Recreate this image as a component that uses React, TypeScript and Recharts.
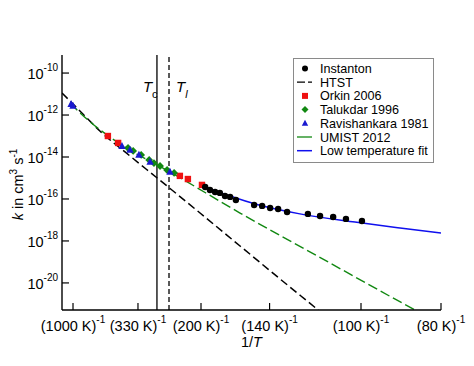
import React from 'react';
import { ComposedChart, Line, Scatter, XAxis, YAxis, ReferenceLine, Legend } from 'recharts';

const FONT = '"Liberation Sans", Arial, Helvetica, sans-serif';
const RED = '#ee1111';
const GREEN = '#118811';
const BLUE = '#1a1ad0';
const FIT_BLUE = '#1010ee';

// x = 1000/T (K^-1 * 1000), y = log10(k / cm^3 s^-1)
const xTickValues = [1, 1000 / 330, 5, 1000 / 140, 10, 12.5];
const xTickTemps = [1000, 330, 200, 140, 100, 80];
const yTickExponents = [-20, -18, -16, -14, -12, -10];

const seriesNames = ['Instanton', 'HTST', 'Orkin 2006', 'Talukdar 1996', 'Ravishankara 1981', 'UMIST 2012', 'Low temperature fit'];

const tcTemp = 276;
const tlTemp = 250;

const instantonX = [5.13, 5.28, 5.44, 5.59, 5.75, 5.91, 6.09, 6.66, 6.91, 7.16, 7.41, 7.69, 8.34, 8.72, 9.13, 9.53, 10.03];
const instantonLogK = [-15.43, -15.57, -15.67, -15.71, -15.86, -15.9, -16.05, -16.29, -16.33, -16.43, -16.48, -16.62, -16.71, -16.81, -16.86, -16.95, -17.05];

const orkinX = [2.09, 2.41, 4.34, 4.59, 5.03];
const orkinLogK = [-13.0, -13.33, -14.9, -15.05, -15.33];

const talukdarX = [2.72, 2.88, 3.13, 3.38, 3.53, 3.72, 3.94, 4.16];
const talukdarLogK = [-13.57, -13.71, -13.9, -14.14, -14.29, -14.43, -14.62, -14.76];

const ravishankaraX = [0.94, 1.0, 2.53, 2.78, 3.06, 3.41, 4.03];
const ravishankaraLogK = [-11.48, -11.57, -13.48, -13.67, -13.9, -14.24, -14.71];

const htstX = [0.656, 1.31, 1.84, 2.78, 3.63, 4.97, 6.22, 7.47, 8.66, 9.34];
const htstLogK = [-10.95, -11.95, -12.76, -13.95, -15.0, -16.67, -18.24, -19.81, -21.29, -22.14];

const umistX = [0.906, 1.47, 2.47, 4.03, 6.22, 9.03, 11.69, 12.5];
const umistLogK = [-11.43, -12.24, -13.38, -14.71, -16.67, -19.05, -21.29, -21.95];

const fitX = [5.03, 5.91, 6.69, 8.09, 9.81, 11.22, 12.5];
const fitLogK = [-15.38, -15.86, -16.24, -16.71, -17.1, -17.38, -17.62];

const zip = (xs: number[], ys: number[]) => xs.map((x, i) => ({ x, y: ys[i] }));

const instantonData = zip(instantonX, instantonLogK);
const orkinData = zip(orkinX, orkinLogK);
const talukdarData = zip(talukdarX, talukdarLogK);
const ravishankaraData = zip(ravishankaraX, ravishankaraLogK);
const htstData = zip(htstX, htstLogK);
const umistData = zip(umistX, umistLogK);
const fitData = zip(fitX, fitLogK);

const X_DOMAIN: [number, number] = [0.656, 12.5];
const Y_DOMAIN: [number, number] = [-21.29, -9.14];
const TICK = 7;

const tempFor = (v: number) => {
  let best = 0;
  xTickValues.forEach((t, i) => {
    if (Math.abs(t - v) < Math.abs(xTickValues[best] - v)) best = i;
  });
  return xTickTemps[best];
};

const BottomTick = (props: any) => {
  const { x, y, payload } = props;
  return (
    <g>
      <line x1={x} y1={y} x2={x} y2={y - TICK} stroke="#000" strokeWidth={1.2} />
      <text x={x} y={y + 21} textAnchor="middle" fontSize={14.5} fontFamily={FONT} fill="#000">
        <tspan>({tempFor(payload.value)} K)</tspan>
        <tspan dy={-8} fontSize={10}>-1</tspan>
      </text>
    </g>
  );
};

const TopTick = (props: any) => {
  const { x, y } = props;
  return <line x1={x} y1={y} x2={x} y2={y + TICK} stroke="#000" strokeWidth={1.2} />;
};

const LeftTick = (props: any) => {
  const { x, y, payload } = props;
  return (
    <g>
      <line x1={x} y1={y} x2={x + TICK} y2={y} stroke="#000" strokeWidth={1.2} />
      <text x={x - 4} y={y + 6} textAnchor="end" fontSize={14.5} fontFamily={FONT} fill="#000">
        <tspan>10</tspan>
        <tspan dy={-8} fontSize={10}>{payload.value}</tspan>
      </text>
    </g>
  );
};

const RightTick = (props: any) => {
  const { x, y } = props;
  return <line x1={x} y1={y} x2={x - TICK} y2={y} stroke="#000" strokeWidth={1.2} />;
};

const Dot = (p: any) => <circle cx={p.cx} cy={p.cy} r={3.2} fill="#000" />;
const Square = (p: any) => <rect x={p.cx - 3.2} y={p.cy - 3.2} width={6.4} height={6.4} fill={RED} />;
const Diamond = (p: any) => (
  <polygon
    points={`${p.cx},${p.cy - 3.9} ${p.cx + 3.9},${p.cy} ${p.cx},${p.cy + 3.9} ${p.cx - 3.9},${p.cy}`}
    fill={GREEN}
  />
);
const Triangle = (p: any) => (
  <polygon
    points={`${p.cx},${p.cy - 4.2} ${p.cx + 3.7},${p.cy + 2.8} ${p.cx - 3.7},${p.cy + 2.8}`}
    fill={BLUE}
  />
);

const legendSymbol = (i: number, cx: number, cy: number) => {
  switch (i) {
    case 0:
      return <circle cx={cx} cy={cy} r={3} fill="#000" />;
    case 1:
      return <line x1={cx - 8} y1={cy} x2={cx + 7} y2={cy} stroke="#000" strokeWidth={1.3} strokeDasharray="8 3" />;
    case 2:
      return <rect x={cx - 3} y={cy - 3} width={6} height={6} fill={RED} />;
    case 3:
      return <polygon points={`${cx},${cy - 3.5} ${cx + 3.5},${cy} ${cx},${cy + 3.5} ${cx - 3.5},${cy}`} fill={GREEN} />;
    case 4:
      return <polygon points={`${cx},${cy - 3.5} ${cx + 3.2},${cy + 2.5} ${cx - 3.2},${cy + 2.5}`} fill={BLUE} />;
    case 5:
      return <line x1={cx - 8} y1={cy} x2={cx + 7} y2={cy} stroke={GREEN} strokeWidth={1.3} />;
    default:
      return <line x1={cx - 8} y1={cy} x2={cx + 7} y2={cy} stroke={FIT_BLUE} strokeWidth={1.5} />;
  }
};

const LegendBox = () => (
  <svg width={141} height={105} style={{ display: 'block' }}>
    <rect x={0.5} y={0.5} width={140} height={104} fill="#fff" stroke="#8a8a8a" strokeWidth={1} />
    {seriesNames.map((name, i) => {
      const cy = 10.5 + i * 13.7;
      return (
        <g key={name}>
          {legendSymbol(i, 12, cy)}
          <text x={27} y={cy + 4.5} fontSize={12.6} fontFamily={FONT} fill="#000">
            {name}
          </text>
        </g>
      );
    })}
  </svg>
);

const TempLabel = (sub: string, dx: number) => (props: any) => {
  const { viewBox } = props;
  const x = viewBox.x + dx;
  const y = viewBox.y + 37;
  return (
    <text x={x} y={y} fontSize={15} fontFamily={FONT} fill="#000">
      <tspan fontStyle="italic">T</tspan>
      <tspan dy={6} fontSize={11} fontStyle={sub === 'l' ? 'italic' : 'normal'}>{sub}</tspan>
    </text>
  );
};

const XTitle = (props: any) => {
  const { viewBox } = props;
  return (
    <text x={viewBox.x + viewBox.width / 2} y={viewBox.y + 37} textAnchor="middle" fontSize={14.5} fontFamily={FONT} fill="#000">
      <tspan>1/</tspan>
      <tspan fontStyle="italic">T</tspan>
    </text>
  );
};

const YTitle = (props: any) => {
  const { viewBox } = props;
  const cx = 23;
  const cy = viewBox.y + viewBox.height / 2 + 2;
  return (
    <text x={cx} y={cy} transform={`rotate(-90 ${cx} ${cy})`} textAnchor="middle" fontSize={14.5} fontFamily={FONT} fill="#000">
      <tspan fontStyle="italic">k</tspan>
      <tspan> in cm</tspan>
      <tspan dy={-6} fontSize={10}>3</tspan>
      <tspan dy={6}> s</tspan>
      <tspan dy={-6} fontSize={10}>-1</tspan>
    </text>
  );
};

const frame = { stroke: '#000', strokeWidth: 1.4 };

export default function App() {
  return (
    <div style={{ position: 'absolute', left: 0, top: 0, width: 474, height: 366, background: '#fff', fontFamily: FONT }}>
      <ComposedChart width={474} height={366} margin={{ top: 55, right: 33, left: 0, bottom: 0 }}>
        <XAxis
          xAxisId={0}
          type="number"
          dataKey="x"
          domain={X_DOMAIN}
          ticks={xTickValues}
          interval={0}
          allowDataOverflow
          height={56}
          axisLine={frame}
          tickLine={false}
          tickSize={0}
          tickMargin={0}
          tick={<BottomTick />}
          label={<XTitle />}
        />
        <XAxis
          xAxisId="top"
          orientation="top"
          type="number"
          dataKey="x"
          domain={X_DOMAIN}
          ticks={xTickValues}
          interval={0}
          allowDataOverflow
          height={0}
          axisLine={frame}
          tickLine={false}
          tickSize={0}
          tickMargin={0}
          tick={<TopTick />}
        />
        <YAxis
          yAxisId={0}
          type="number"
          dataKey="y"
          domain={Y_DOMAIN}
          ticks={yTickExponents}
          interval={0}
          allowDataOverflow
          width={62}
          axisLine={frame}
          tickLine={false}
          tickSize={0}
          tickMargin={0}
          tick={<LeftTick />}
          label={<YTitle />}
        />
        <YAxis
          yAxisId="right"
          orientation="right"
          type="number"
          dataKey="y"
          domain={Y_DOMAIN}
          ticks={yTickExponents}
          interval={0}
          allowDataOverflow
          width={0}
          axisLine={frame}
          tickLine={false}
          tickSize={0}
          tickMargin={0}
          tick={<RightTick />}
        />

        <ReferenceLine x={1000 / tcTemp} stroke="#000" strokeWidth={1.3} label={TempLabel('c', -14)} />
        <ReferenceLine x={1000 / tlTemp} stroke="#000" strokeWidth={1.3} strokeDasharray="5 3" label={TempLabel('l', 7)} />

        <Line data={htstData} dataKey="y" name={seriesNames[1]} type="monotone" stroke="#000" strokeWidth={1.5} strokeDasharray="8 4" dot={false} isAnimationActive={false} />
        <Line data={umistData} dataKey="y" name={seriesNames[5]} type="monotone" stroke={GREEN} strokeWidth={1.4} strokeDasharray="10 4" dot={false} isAnimationActive={false} />
        <Line data={fitData} dataKey="y" name={seriesNames[6]} type="monotone" stroke={FIT_BLUE} strokeWidth={1.5} dot={false} isAnimationActive={false} />

        <Scatter data={orkinData} name={seriesNames[2]} shape={Square} isAnimationActive={false} />
        <Scatter data={talukdarData} name={seriesNames[3]} shape={Diamond} isAnimationActive={false} />
        <Scatter data={ravishankaraData} name={seriesNames[4]} shape={Triangle} isAnimationActive={false} />
        <Scatter data={instantonData} name={seriesNames[0]} shape={Dot} isAnimationActive={false} />

        <Legend
          layout="vertical"
          align="center"
          verticalAlign="middle"
          wrapperStyle={{ left: 293, top: 58, width: 141, height: 105 }}
          content={() => <LegendBox />}
        />
      </ComposedChart>
    </div>
  );
}
